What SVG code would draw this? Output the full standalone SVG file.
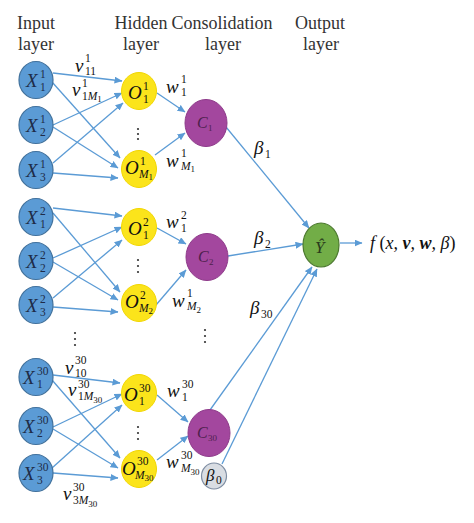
<svg xmlns="http://www.w3.org/2000/svg" width="474" height="523" viewBox="0 0 474 523">
<defs>
<marker id="ah" markerUnits="userSpaceOnUse" markerWidth="8" markerHeight="7" refX="7.5" refY="3.5" orient="auto">
<path d="M0,0 L8,3.5 L0,7 Z" fill="#5b9bd5"/>
</marker>
<style>
.hd{font-family:"Liberation Serif",serif;font-size:18px;fill:#333;text-anchor:middle}
.m{font-family:"Liberation Serif",serif;font-style:italic;font-size:19px;fill:#111}
.s{font-size:11.5px;font-style:normal}
.si{font-size:11.5px;font-style:italic}
.ss{font-size:9px;font-style:normal}
.xn{fill:#5b9bd5;stroke:#41719c;stroke-width:1.2}
.xt{fill:#1e2c48}
.on{fill:#fbe41b;stroke:#f2d600;stroke-width:1}
.cn{fill:#a3479e;stroke:#8e3a8a;stroke-width:1}
.ct{fill:#4e1f4c;font-size:16px}
.yn{fill:#72ad47;stroke:#4d7a30;stroke-width:1.2}
.bn{fill:#d9dde3;stroke:#7f8ea3;stroke-width:1.2}
.e{stroke:#5b9bd5;stroke-width:1.3;fill:none;marker-end:url(#ah)}
.dot{fill:#333}
</style>
</defs>
<rect width="474" height="523" fill="#fff"/>
<g id="headers">
<text class="hd" x="36" y="29">Input</text>
<text class="hd" x="36" y="50">layer</text>
<text class="hd" x="141" y="29">Hidden</text>
<text class="hd" x="141" y="50">layer</text>
<text class="hd" x="222" y="29">Consolidation</text>
<text class="hd" x="223" y="50">layer</text>
<text class="hd" x="320" y="29">Output</text>
<text class="hd" x="321" y="50">layer</text>
</g>
<g id="connectors">
<line class="e" x1="53" y1="73" x2="122" y2="81"/>
<line class="e" x1="52" y1="82" x2="120" y2="158"/>
<line class="e" x1="53" y1="125" x2="122" y2="93"/>
<line class="e" x1="53" y1="127" x2="118" y2="168"/>
<line class="e" x1="53" y1="163" x2="123" y2="103"/>
<line class="e" x1="53" y1="173" x2="118" y2="178"/>
<line class="e" x1="157" y1="93" x2="185" y2="112"/>
<line class="e" x1="155" y1="155" x2="185" y2="133"/>
<line class="e" x1="53" y1="208" x2="122" y2="216"/>
<line class="e" x1="53" y1="213" x2="120" y2="292"/>
<line class="e" x1="53" y1="258" x2="122" y2="227"/>
<line class="e" x1="53" y1="262" x2="118" y2="300"/>
<line class="e" x1="53" y1="298" x2="122" y2="240"/>
<line class="e" x1="53" y1="307" x2="118" y2="312"/>
<line class="e" x1="157" y1="228" x2="186" y2="244"/>
<line class="e" x1="156" y1="305" x2="186" y2="270"/>
<line class="e" x1="53" y1="375" x2="120" y2="383"/>
<line class="e" x1="52" y1="380" x2="120" y2="458"/>
<line class="e" x1="53" y1="427" x2="122" y2="394"/>
<line class="e" x1="53" y1="429" x2="118" y2="468"/>
<line class="e" x1="52" y1="468" x2="122" y2="405"/>
<line class="e" x1="53" y1="473" x2="118" y2="478"/>
<line class="e" x1="157" y1="395" x2="188" y2="422"/>
<line class="e" x1="157" y1="460" x2="188" y2="436"/>
<line class="e" x1="226" y1="127" x2="309" y2="228"/>
<line class="e" x1="228" y1="256" x2="303" y2="244"/>
<line class="e" x1="210" y1="410" x2="312" y2="267"/>
<line class="e" x1="222" y1="464" x2="317" y2="269"/>
<line class="e" x1="340" y1="243" x2="362" y2="243"/>
</g>
<g id="x1_1"><ellipse class="xn" cx="36" cy="80" rx="17" ry="18.5"/><text class="m xt"><tspan x="26" y="87">X</tspan><tspan class="s" x="40" y="78">1</tspan><tspan class="s" x="40" y="91">1</tspan></text></g>
<g id="x1_2"><ellipse class="xn" cx="36" cy="125" rx="17" ry="18.5"/><text class="m xt"><tspan x="26" y="132">X</tspan><tspan class="s" x="40" y="123">1</tspan><tspan class="s" x="40" y="136">2</tspan></text></g>
<g id="x1_3"><ellipse class="xn" cx="36" cy="170" rx="17" ry="18.5"/><text class="m xt"><tspan x="26" y="177">X</tspan><tspan class="s" x="40" y="168">1</tspan><tspan class="s" x="40" y="181">3</tspan></text></g>
<g id="x2_1"><ellipse class="xn" cx="36" cy="217" rx="17" ry="18.5"/><text class="m xt"><tspan x="26" y="224">X</tspan><tspan class="s" x="40" y="215">2</tspan><tspan class="s" x="40" y="228">1</tspan></text></g>
<g id="x2_2"><ellipse class="xn" cx="36" cy="261" rx="17" ry="18.5"/><text class="m xt"><tspan x="26" y="268">X</tspan><tspan class="s" x="40" y="259">2</tspan><tspan class="s" x="40" y="272">2</tspan></text></g>
<g id="x2_3"><ellipse class="xn" cx="36" cy="305" rx="17" ry="18.5"/><text class="m xt"><tspan x="26" y="312">X</tspan><tspan class="s" x="40" y="303">2</tspan><tspan class="s" x="40" y="316">3</tspan></text></g>
<g id="x30_1"><ellipse class="xn" cx="36" cy="377" rx="17" ry="18.5"/><text class="m xt"><tspan x="23" y="384">X</tspan><tspan class="s" x="37" y="375">30</tspan><tspan class="s" x="37" y="388">1</tspan></text></g>
<g id="x30_2"><ellipse class="xn" cx="36" cy="426" rx="17" ry="18.5"/><text class="m xt"><tspan x="23" y="433">X</tspan><tspan class="s" x="37" y="424">30</tspan><tspan class="s" x="37" y="437">2</tspan></text></g>
<g id="x30_3"><ellipse class="xn" cx="36" cy="473" rx="17" ry="18.5"/><text class="m xt"><tspan x="23" y="480">X</tspan><tspan class="s" x="37" y="471">30</tspan><tspan class="s" x="37" y="484">3</tspan></text></g>
<g id="o1_1"><ellipse class="on" cx="139" cy="91" rx="17.5" ry="18.5"/><text class="m"><tspan x="128" y="99">O</tspan><tspan class="s" x="143" y="90">1</tspan><tspan class="s" x="143" y="103">1</tspan></text></g>
<g id="o1_m"><ellipse class="on" cx="139" cy="169" rx="17.5" ry="18.5"/><text class="m"><tspan x="125" y="174">O</tspan><tspan class="s" x="140" y="165">1</tspan><tspan class="si" x="139" y="178">M</tspan><tspan class="ss" y="180">1</tspan></text></g>
<g id="o2_1"><ellipse class="on" cx="139" cy="227" rx="17.5" ry="18.5"/><text class="m"><tspan x="128" y="235">O</tspan><tspan class="s" x="143" y="226">2</tspan><tspan class="s" x="143" y="239">1</tspan></text></g>
<g id="o2_m"><ellipse class="on" cx="139" cy="303" rx="17.5" ry="18.5"/><text class="m"><tspan x="125" y="308">O</tspan><tspan class="s" x="140" y="299">2</tspan><tspan class="si" x="139" y="312">M</tspan><tspan class="ss" y="314">2</tspan></text></g>
<g id="o30_1"><ellipse class="on" cx="139" cy="393" rx="17.5" ry="18.5"/><text class="m"><tspan x="124" y="401">O</tspan><tspan class="s" x="139" y="392">30</tspan><tspan class="s" x="139" y="405">1</tspan></text></g>
<g id="o30_m"><ellipse class="on" cx="139" cy="469" rx="17.5" ry="18.5"/><text class="m"><tspan x="122" y="475">O</tspan><tspan class="s" x="137" y="465">30</tspan><tspan class="si" x="135" y="479">M</tspan><tspan class="ss" y="481">30</tspan></text></g>
<g id="c1"><ellipse class="cn" cx="206" cy="123" rx="21" ry="23.5"/><text class="m ct"><tspan x="197" y="128">C</tspan><tspan class="ss" x="208" y="131">1</tspan></text></g>
<g id="c2"><ellipse class="cn" cx="207" cy="257" rx="21" ry="23.5"/><text class="m ct"><tspan x="198" y="262">C</tspan><tspan class="ss" x="209" y="265">2</tspan></text></g>
<g id="c30"><ellipse class="cn" cx="209" cy="433" rx="21" ry="23.5"/><text class="m ct"><tspan x="197" y="438">C</tspan><tspan class="ss" x="208" y="441">30</tspan></text></g>
<g id="beta0"><ellipse class="bn" cx="214" cy="476" rx="12.5" ry="13"/><text class="m" style="font-size:17px"><tspan x="206" y="481">β</tspan><tspan class="s" x="216" y="484">0</tspan></text></g>
<g id="yhat"><ellipse class="yn" cx="321" cy="245" rx="18" ry="22"/><text class="m" style="fill:#2a3b1c;font-size:17px" x="315" y="253">Ŷ</text></g>
<g id="output"><text class="m" x="370" y="249" style="font-size:18px">f<tspan font-style="normal"> (</tspan>x, <tspan font-weight="bold">v</tspan>, <tspan font-weight="bold">w</tspan>, β<tspan font-style="normal">)</tspan></text></g>
<g id="labels">
<text class="m"><tspan x="75" y="72">v</tspan><tspan class="s" x="85" y="62">1</tspan><tspan class="s" x="85" y="75">11</tspan></text>
<text class="m"><tspan x="72" y="96">v</tspan><tspan class="s" x="82" y="87">1</tspan><tspan class="s" x="82" y="100">1</tspan><tspan class="si">M</tspan><tspan class="ss" y="102">1</tspan></text>
<text class="m"><tspan x="166" y="93">w</tspan><tspan class="s" x="181" y="83">1</tspan><tspan class="s" x="181" y="96">1</tspan></text>
<text class="m"><tspan x="166" y="167">w</tspan><tspan class="s" x="181" y="157">1</tspan><tspan class="si" x="181" y="170">M</tspan><tspan class="ss" y="172">1</tspan></text>
<text class="m"><tspan x="166" y="228">w</tspan><tspan class="s" x="181" y="219">2</tspan><tspan class="s" x="181" y="232">1</tspan></text>
<text class="m"><tspan x="172" y="307">w</tspan><tspan class="s" x="187" y="297">1</tspan><tspan class="si" x="187" y="310">M</tspan><tspan class="ss" y="313">2</tspan></text>
<text class="m"><tspan x="65" y="374">v</tspan><tspan class="s" x="75" y="364">30</tspan><tspan class="s" x="75" y="377">10</tspan></text>
<text class="m"><tspan x="68" y="396">v</tspan><tspan class="s" x="78" y="388">30</tspan><tspan class="s" x="78" y="400">1</tspan><tspan class="si">M</tspan><tspan class="ss" y="403">30</tspan></text>
<text class="m"><tspan x="63" y="500">v</tspan><tspan class="s" x="73" y="491">30</tspan><tspan class="s" x="73" y="504">3</tspan><tspan class="si">M</tspan><tspan class="ss" y="507">30</tspan></text>
<text class="m"><tspan x="167" y="397">w</tspan><tspan class="s" x="182" y="388">30</tspan><tspan class="s" x="182" y="401">1</tspan></text>
<text class="m"><tspan x="166" y="468">w</tspan><tspan class="s" x="181" y="459">30</tspan><tspan class="si" x="181" y="472">M</tspan><tspan class="ss" y="475">30</tspan></text>
<text class="m"><tspan x="254" y="154">β</tspan><tspan class="s" x="265" y="158">1</tspan></text>
<text class="m"><tspan x="254" y="244">β</tspan><tspan class="s" x="265" y="248">2</tspan></text>
<text class="m"><tspan x="250" y="314">β</tspan><tspan class="s" x="261" y="318">30</tspan></text>
</g>
<g id="dots">
<circle class="dot" cx="138" cy="129" r="1.1"/><circle class="dot" cx="138" cy="134" r="1.1"/><circle class="dot" cx="138" cy="139" r="1.1"/>
<circle class="dot" cx="138" cy="260" r="1.1"/><circle class="dot" cx="138" cy="266" r="1.1"/><circle class="dot" cx="138" cy="272" r="1.1"/>
<circle class="dot" cx="138" cy="427" r="1.1"/><circle class="dot" cx="138" cy="433" r="1.1"/><circle class="dot" cx="138" cy="439" r="1.1"/>
<circle class="dot" cx="75" cy="333" r="1.1"/><circle class="dot" cx="75" cy="339" r="1.1"/><circle class="dot" cx="75" cy="345" r="1.1"/>
<circle class="dot" cx="205" cy="330" r="1.1"/><circle class="dot" cx="205" cy="336" r="1.1"/><circle class="dot" cx="205" cy="342" r="1.1"/>
</g>
</svg>
